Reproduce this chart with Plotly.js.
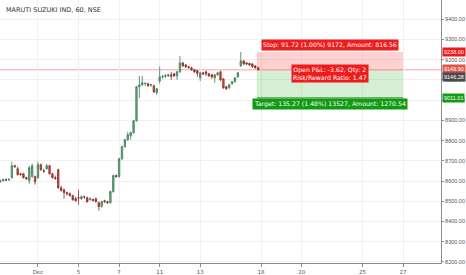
<!DOCTYPE html>
<html>
<head>
<meta charset="utf-8">
<script src="https://cdn.plot.ly/plotly-3.0.1.min.js"></script>
<style>
html,body{margin:0;padding:0;background:#fff;}
#chart{width:466px;height:275px;}
</style>
</head>
<body>
<div id="chart"></div>
<script>
// Hourly bars, first bar index relative to Dec 1 first bar
const firstBar = -13;
const opens = [8597,8602,8607,8605,8617,8676,8661,8636,8636,8617,8602,8622,8622,
  8617,8681,8651,8661,8676,8636,8617,8656,8567,8557,8543,8538,8528,8513,
  8518,8513,8523,8518,8508,8510,8513,8493,8474,8503,8498,8493,8548,8627,
  8622,8710,8770,8804,8824,8839,8898,9066,9076,9081,9081,9074,9071,9036,
  9095,9115,9118,9120,9125,9130,9120,9140,9184,9174,9165,9160,9150,9145,
  9110,9135,9140,9130,9125,9110,9125,9140,9105,9066,9061,9081,9091,9115,
  9169,9194,9184,9182,9179,9169,9160];
const highs = [8607,8612,8613,8614,8696,8681,8671,8641,8641,8622,8676,8686,8627,
  8696,8686,8661,8686,8681,8641,8627,8661,8577,8562,8548,8543,8533,8523,
  8557,8528,8528,8523,8518,8513,8518,8498,8503,8508,8503,8553,8632,8632,
  8715,8775,8809,8844,8844,8903,9071,9120,9120,9086,9086,9081,9076,9061,
  9165,9125,9130,9130,9140,9135,9145,9219,9189,9179,9169,9165,9155,9150,
  9140,9140,9145,9135,9130,9130,9140,9145,9110,9071,9081,9095,9115,9140,
  9238,9199,9189,9184,9184,9174,9165];
const lows = [8592,8597,8600,8601,8612,8666,8627,8627,8612,8607,8587,8617,8582,
  8612,8651,8641,8656,8632,8612,8607,8562,8548,8513,8528,8523,8503,8498,
  8483,8508,8513,8493,8503,8498,8493,8454,8469,8493,8488,8488,8543,8617,
  8617,8705,8765,8799,8804,8834,8893,9010,9071,9071,9066,9066,9036,9026,
  9081,9105,9110,9115,9100,9115,9100,9135,9165,9160,9155,9145,9135,9115,
  9095,9125,9120,9115,9105,9086,9120,9095,9056,9051,9056,9076,9086,9110,
  9165,9174,9174,9169,9160,9155,9147];
const closes = [8602,8607,8605,8608,8676,8671,8632,8632,8617,8610,8666,8676,8597,
  8681,8656,8648,8676,8636,8617,8612,8567,8553,8543,8538,8528,8508,8503,
  8516,8523,8521,8498,8513,8505,8498,8474,8498,8498,8493,8548,8627,8622,
  8710,8770,8804,8829,8839,8898,9066,9076,9086,9084,9071,9076,9041,9056,
  9115,9118,9120,9125,9118,9120,9140,9184,9169,9165,9162,9150,9140,9133,
  9135,9130,9130,9120,9115,9125,9135,9100,9061,9056,9076,9091,9110,9135,
  9194,9179,9179,9174,9165,9160,9149.9];

const tickBars = [0,14,28,42,56,77,91,112,126];
const tickLabels = ['Dec','5','7','11','13','18','20','25','27'];
const priceTicks = [8200,8300,8400,8500,8600,8700,8800,8900,9000,9100,9200,9300,9400];

// position tool
const entryPrice = 9146.28;
const stopPrice = 9238.00;
const targetPrice = 9011.01;
const lastPrice = 9149.90;
const posStartBar = 75.5;
const posEndBar = 126;
const stopText = 'Stop: 91.72 (1.00%) 9172, Amount: 816.56';
const pnlText = 'Open P&amp;L: -3.62, Qty: 2<br>Risk/Reward Ratio: 1.47';
const targetText = 'Target: 135.27 (1.48%) 13527, Amount: 1270.54';

const xs = opens.map((_, i) => i + firstBar);

const trace = {
  type: 'candlestick',
  x: xs, open: opens, high: highs, low: lows, close: closes,
  increasing: {line: {color: '#3f7d58', width: 0.8}, fillcolor: '#6ba583'},
  decreasing: {line: {color: '#8a2a20', width: 0.8}, fillcolor: '#d75442'},
  whiskerwidth: 0,
  hoverinfo: 'none',
  showlegend: false
};

const F = 'DejaVu Sans, sans-serif';
const FA = 'Liberation Sans, Arial, sans-serif';
const layout = {
  width: 466, height: 275,
  margin: {l: 0, r: 25, t: 0, b: 12},
  paper_bgcolor: '#fff', plot_bgcolor: '#fff',
  showlegend: false,
  xaxis: {
    range: [-13.1, 139.1],
    tickvals: tickBars, ticktext: tickLabels,
    showgrid: true, gridcolor: '#eef0f3', gridwidth: 1,
    showline: true, linecolor: '#8c8c8c', linewidth: 1,
    ticks: 'outside', ticklen: 3, tickcolor: '#8c8c8c',
    tickfont: {family: F, size: 5.5, color: '#555'},
    rangeslider: {visible: false},
    zeroline: false, fixedrange: true
  },
  yaxis: {
    side: 'right',
    range: [8195, 9495],
    tickvals: priceTicks, tickformat: '.2f',
    showgrid: true, gridcolor: '#eef0f3', gridwidth: 1,
    showline: true, linecolor: '#8c8c8c', linewidth: 1,
    ticks: 'outside', ticklen: 2, tickcolor: '#8c8c8c',
    tickfont: {family: FA, size: 5.5, color: '#555'},
    zeroline: false, fixedrange: true
  },
  shapes: [
    {type: 'line', xref: 'paper', x0: 0, x1: 1, yref: 'y', y0: lastPrice, y1: lastPrice,
     line: {color: 'rgba(235,77,92,0.35)', width: 1.5}, layer: 'below'},
    {type: 'rect', xref: 'x', yref: 'y', x0: posStartBar, x1: posEndBar, y0: entryPrice, y1: stopPrice,
     fillcolor: 'rgba(255,0,0,0.18)', line: {width: 0}},
    {type: 'rect', xref: 'x', yref: 'y', x0: posStartBar, x1: posEndBar, y0: targetPrice, y1: entryPrice,
     fillcolor: 'rgba(0,160,0,0.17)', line: {width: 0}},
    {type: 'line', xref: 'x', yref: 'y', x0: posStartBar, x1: posEndBar, y0: targetPrice, y1: targetPrice,
     line: {color: '#1e8f1e', width: 1}}
  ],
  annotations: [
    {xref: 'paper', yref: 'paper', x: 0.009, y: 0.985, xanchor: 'left', yanchor: 'top',
     text: 'MARUTI SUZUKI IND, 60, NSE', showarrow: false,
     font: {family: F, size: 6.5, color: '#333'}},
    {xref: 'x', yref: 'y', x: (posStartBar + posEndBar) / 2, y: stopPrice, yanchor: 'bottom', yshift: 1,
     text: stopText, showarrow: false, bgcolor: '#ee1c1c', borderpad: 1,
     font: {family: F, size: 6.2, color: '#fff'}},
    {xref: 'x', yref: 'y', x: (posStartBar + posEndBar) / 2, y: entryPrice, yanchor: 'middle', yshift: -3,
     text: pnlText, showarrow: false, bgcolor: '#ee1c1c', borderpad: 1,
     font: {family: F, size: 6.2, color: '#fff'}},
    {xref: 'x', yref: 'y', x: (posStartBar + posEndBar) / 2, y: targetPrice, yanchor: 'top', yshift: -0.5,
     text: targetText, showarrow: false, bgcolor: '#129a12', borderpad: 1,
     font: {family: F, size: 6.2, color: '#fff'}},
    {xref: 'paper', yref: 'y', x: 1, xanchor: 'left', xshift: 1, y: stopPrice, yanchor: 'middle',
     text: stopPrice.toFixed(2), showarrow: false, bgcolor: '#f01818', borderpad: 1,
     font: {family: FA, size: 5.5, color: '#fff'}},
    {xref: 'paper', yref: 'y', x: 1, xanchor: 'left', xshift: 1, y: lastPrice, yanchor: 'middle', yshift: 1,
     text: lastPrice.toFixed(2), showarrow: false, bgcolor: '#e0564a', borderpad: 1,
     font: {family: FA, size: 5.5, color: '#fff'}},
    {xref: 'paper', yref: 'y', x: 1, xanchor: 'left', xshift: 1, y: entryPrice, yanchor: 'middle', yshift: -6,
     text: entryPrice.toFixed(2), showarrow: false, bgcolor: '#4a4a4a', borderpad: 1,
     font: {family: FA, size: 5.5, color: '#fff'}},
    {xref: 'paper', yref: 'y', x: 1, xanchor: 'left', xshift: 1, y: targetPrice, yanchor: 'middle',
     text: targetPrice.toFixed(2), showarrow: false, bgcolor: '#129a12', borderpad: 1,
     font: {family: FA, size: 5.5, color: '#fff'}}
  ]
};

Plotly.newPlot('chart', [trace], layout, {displayModeBar: false, staticPlot: true});
</script>
</body>
</html>
